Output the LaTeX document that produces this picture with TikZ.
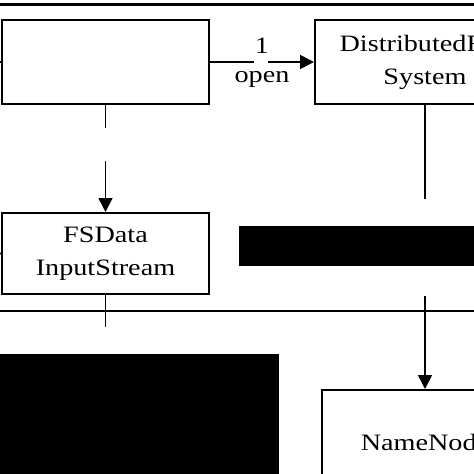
\documentclass[tikz,border=0pt]{standalone}
\usepackage{fontspec}
\setmainfont{Liberation Serif}[FakeStretch=1.2]
\usepackage{xcolor}
\usepackage{tikz}
\usetikzlibrary{arrows.meta,positioning}

\begin{document}
\begin{tikzpicture}[
    x=1pt, y=-1pt,
    node distance=104pt,
    block/.style={draw=black, line width=2pt, fill=white, align=center,
                 inner sep=0pt, font=\fontsize{23.5}{33}\selectfont,
                 minimum width=207pt, minimum height=84pt},
    flow/.style={-{Triangle[length=14pt,width=14pt]}, draw=black,
                 line width=1.8pt},
    wire/.style={draw=black, line width=1.8pt},
    lbl/.style={font=\fontsize{23.5}{33}\selectfont, inner sep=7pt}]
  \useasboundingbox (0,0) rectangle (474,474);
  \clip (0,0) rectangle (474,474);
  % rules
  \draw[line width=3.5pt] (-5,4.5) -- (480,4.5);
  \draw[line width=2pt] (-5,311) -- (480,311);
  % boxes
  \node[block] (client) at (105.5,62) {};
  \node[block, right=of client, minimum width=220pt] (dfs) {DistributedFile\\System};
  \node[block, below=107pt of client, minimum height=81pt] (fsdata) {FSData\\InputStream};
  \node[block, below=284pt of dfs, minimum width=206pt, minimum height=104pt] (namenode) {NameNode};
  \coordinate (inA) at (-20,62);
  \coordinate (inB) at (-20,252);
  \coordinate (fsEnd) at (105.5,327);
  % connectors
  \draw[wire] (inA) -- (client.west);
  \draw[wire] (inB) -- (fsdata.west);
  \draw[flow, dash pattern=on 44pt off 14pt on 200pt] (client) -- node[lbl, above, inner sep=8pt] {1} node[lbl, below, inner sep=9pt] {open} (dfs);
  \draw[flow, dash pattern=on 23pt off 33pt on 200pt] (client) -- (fsdata);
  \draw[flow, dash pattern=on 94pt off 97pt on 300pt] (dfs) -- (namenode);
  \draw[wire] (fsdata) -- (fsEnd);
  % hidden parts
  \fill[black] (239,226) rectangle (480,266);
  \fill[black] (-5,354) rectangle (279,480);
\end{tikzpicture}
\end{document}
